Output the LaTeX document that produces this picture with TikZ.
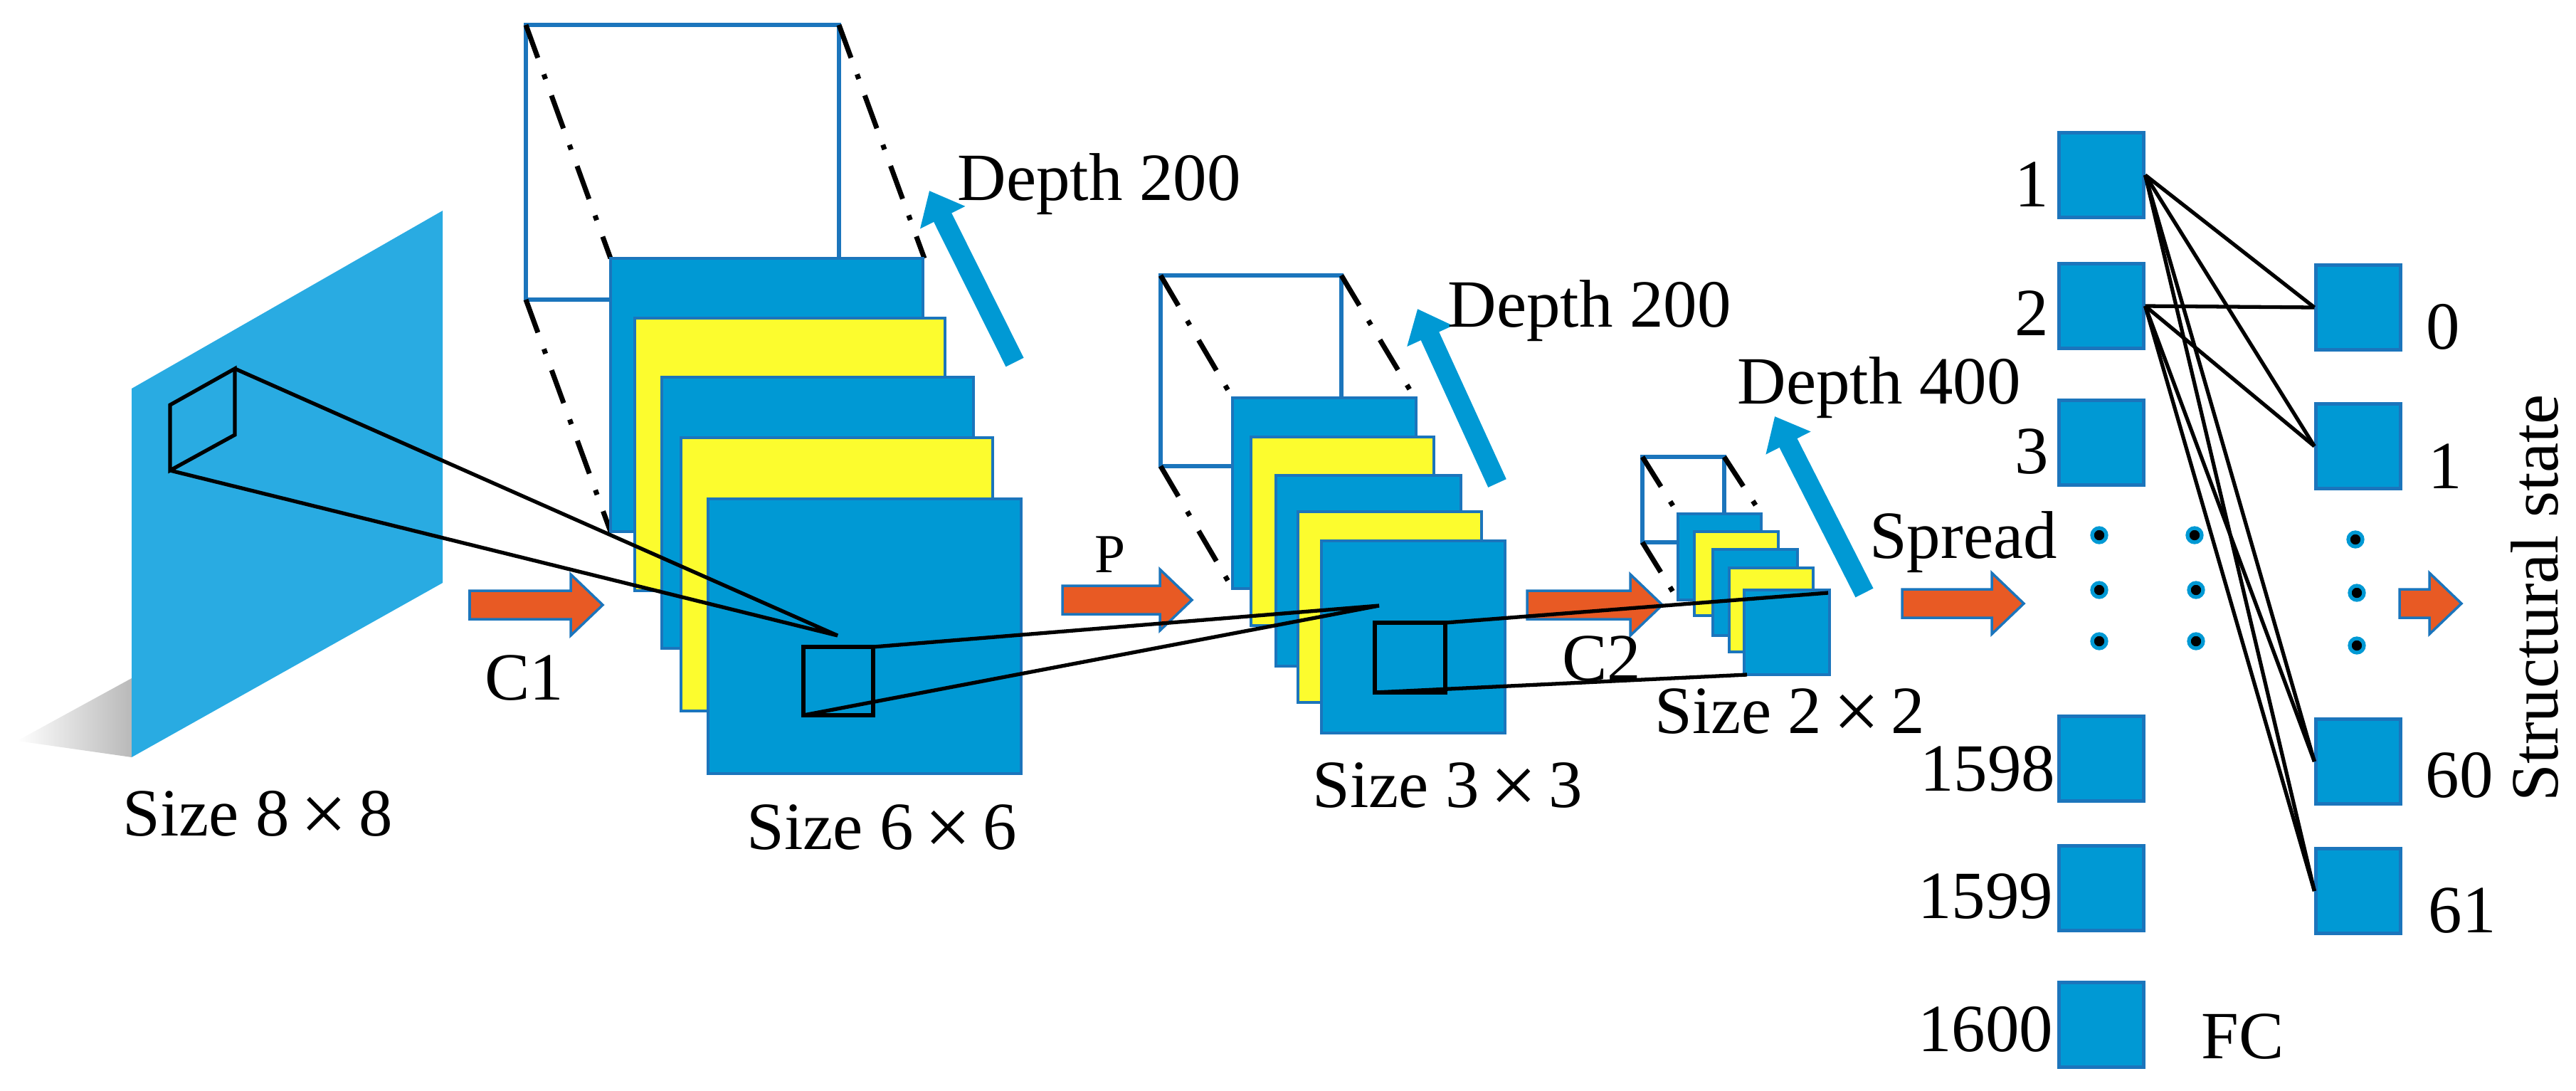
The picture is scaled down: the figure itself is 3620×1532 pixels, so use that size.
\documentclass[tikz,border=0pt]{standalone}
\usepackage{fontspec}
\setmainfont{Liberation Serif}
\usepackage{tikz}
\usetikzlibrary{arrows.meta}
\definecolor{planeblue}{HTML}{29ABE2}
\definecolor{mapblue}{HTML}{0099D4}
\definecolor{mapyellow}{HTML}{FCFC2E}
\definecolor{arrorange}{HTML}{E85A24}
\definecolor{edgeblue}{HTML}{1B75BC}
\tikzset{bmap/.style={fill=mapblue,draw=edgeblue,line width=1.2pt},
ymap/.style={fill=mapyellow,draw=edgeblue,line width=1.2pt},
wire/.style={draw=edgeblue,line width=1.5pt},
dashdot/.style={draw=black,line width=2pt,dash pattern=on 14pt off 7pt on 2pt off 7pt},
thin line/.style={draw=black,line width=1.5pt},
barrow/.style={fill=arrorange,draw=edgeblue,line width=1pt},
depth arrow/.style={draw=mapblue,line width=0.28cm,-{Triangle[width=0.68cm,length=0.42cm]}},
fc node/.style={rectangle,fill=mapblue,draw=edgeblue,line width=1.2pt,minimum width=1.19cm,minimum height=1.19cm,inner sep=0pt},
txt/.style={font=\fontsize{27}{30}\selectfont,inner sep=0pt},
}
\newcommand{\blockarrow}[3]{\filldraw[barrow] (#1,#3-20) -- (#2-45,#3-20) -- (#2-45,#3-43) -- (#2,#3) -- (#2-45,#3+43) -- (#2-45,#3+20) -- (#1,#3+20) -- cycle;}
\newcommand{\mapsq}[5]{\filldraw[#5] (#1,#2) rectangle (#3,#4);}
\newcommand{\bigtimes}{\,\raisebox{-2.5pt}{\fontsize{33}{30}\selectfont ×}\,}

\begin{document}
\begin{tikzpicture}[x=0.01cm,y=-0.01cm]
\useasboundingbox (0,0) rectangle (3620,1532);

%% input plane
\shade[left color=white,right color=gray!55] (24,1041) -- (185,953) -- (185,1064) -- cycle;
\fill[planeblue] (185,546) -- (622,296) -- (622,819) -- (185,1064) -- cycle;
\draw[thin line] (239,569) -- (330,518) -- (330,611) -- (239,661) -- cycle;
\node[txt] (s8) at (362,1147) {Size 8\bigtimes 8};

%% first stack
\draw[wire] (739,35) rectangle (1179,421);
\draw[dashdot] (739,35) -- (858,363) (1179,35) -- (1299,363) (739,421) -- (858,747);
\mapsq{858}{363}{1297}{747}{bmap}
\mapsq{892}{447}{1328}{830}{ymap}
\mapsq{930}{530}{1368}{911}{bmap}
\mapsq{957}{615}{1395}{999}{ymap}
\mapsq{995}{701}{1435}{1087}{bmap}
\draw[thin line] (1129,909) rectangle (1227,1005);
\coordinate (d1a) at (1426,509); \coordinate (d1b) at (1306,268);
\draw[depth arrow] (d1a) -- (d1b);
\node[txt,anchor=west] (dp1) at (1345,259) {Depth 200};
\node[txt] (s6) at (1239,1166) {Size 6\bigtimes 6};
\blockarrow{660}{847}{850}
\node[txt] (c1) at (737,953) {C1};

%% second stack
\draw[wire] (1631,387) rectangle (1885,655);
\draw[dashdot] (1631,387) -- (1732,559) (1885,387) -- (1988,559) (1631,655) -- (1732,827);
\mapsq{1732}{559}{1990}{827}{bmap}
\mapsq{1758}{614}{2015}{879}{ymap}
\mapsq{1793}{668}{2053}{936}{bmap}
\mapsq{1824}{719}{2082}{987}{ymap}
\mapsq{1857}{760}{2115}{1030}{bmap}
\draw[thin line] (1932,875) rectangle (2031,973);
\coordinate (d2a) at (2104,679); \coordinate (d2b) at (1992,434);
\draw[depth arrow] (d2a) -- (d2b);
\node[txt,anchor=west] (dp2) at (2034,437) {Depth 200};
\node[txt] (s3) at (2034,1107) {Size 3\bigtimes 3};
\blockarrow{1493}{1675}{843}
\node[txt,font=\fontsize{22}{24}\selectfont] (p) at (1560,779) {P};

%% third stack
\blockarrow{2146}{2336}{850}
\draw[wire] (2308,642) rectangle (2423,762);
\draw[dashdot] (2308,642) -- (2358,722) (2423,642) -- (2475,722) (2308,762) -- (2358,843);
\mapsq{2358}{722}{2475}{843}{bmap}
\mapsq{2381}{747}{2499}{865}{ymap}
\mapsq{2407}{772}{2526}{893}{bmap}
\mapsq{2430}{798}{2548}{916}{ymap}
\mapsq{2451}{829}{2571}{948}{bmap}
\coordinate (d3a) at (2620,833); \coordinate (d3b) at (2494,585);
\draw[depth arrow] (d3a) -- (d3b);
\node[txt,anchor=west] (dp3) at (2441,545) {Depth 400};
\node[txt,anchor=west] (s2) at (2325,1003) {Size 2\bigtimes 2};
\node[txt] (c2) at (2251,926) {C2};

%% projection lines
\draw[thin line] (330,518) -- (1177,893) -- (239,661);
\draw[thin line] (1227,909) -- (1938,851) -- (1129,1005);
\draw[thin line] (2031,875) -- (2569,833);
\draw[thin line] (1932,973) -- (2455,948);

%% spread + FC
\blockarrow{2673}{2844}{848}
\node[txt] (spread) at (2759,762) {Spread};
\node[fc node] (n1) at (2953,246) {};
\node[fc node] (n2) at (2953,430) {};
\node[fc node] (n3) at (2953,622) {};
\node[fc node] (n1598) at (2953,1066) {};
\node[fc node] (n1599) at (2953,1248) {};
\node[fc node] (n1600) at (2953,1440) {};
\node[fc node] (o0) at (3314,432) {};
\node[fc node] (o1) at (3314,627) {};
\node[fc node] (o60) at (3314,1070) {};
\node[fc node] (o61) at (3314,1252) {};
\node[txt,anchor=east] (l1) at (2880,259) {1};
\node[txt,anchor=east] (l2) at (2880,440) {2};
\node[txt,anchor=east] (l3) at (2880,635) {3};
\node[txt,anchor=east] (l1598) at (2889,1080) {1598};
\node[txt,anchor=east] (l1599) at (2886,1260) {1599};
\node[txt,anchor=east] (l1600) at (2886,1446) {1600};
\node[txt,anchor=west] (r0) at (3409,459) {0};
\node[txt,anchor=west] (r1) at (3412,655) {1};
\node[txt,anchor=west] (r60) at (3408,1089) {60};
\node[txt,anchor=west] (r61) at (3412,1280) {61};
\node[txt] (fc) at (3152,1456) {FC};
\foreach \xx/\yy in {2950/752,2950/829,2950/901,3084/752,3086/829,3086/901,3310/758,3312/833,3312/907}
  \filldraw[fill=black,draw=mapblue,line width=1.5pt] (\xx,\yy) circle (10);
\foreach \src in {n1,n2}
  \foreach \dst in {o0,o1,o60,o61}
    \draw[black,line width=1.5pt] (\src.east) -- (\dst.west);
\blockarrow{3372}{3459}{848}
\node[txt,rotate=90] (state) at (3562,840) {Structural state};
\end{tikzpicture}
\end{document}
